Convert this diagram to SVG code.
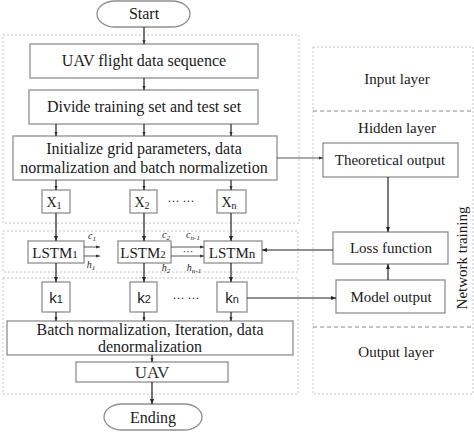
<svg xmlns="http://www.w3.org/2000/svg" width="474" height="432" viewBox="0 0 474 432">
<defs>
<marker id="ah" viewBox="0 0 10 10" refX="10" refY="5" markerWidth="5" markerHeight="5" orient="auto" markerUnits="userSpaceOnUse">
<path d="M0,1 L10,5 L0,9 z" fill="#222"/>
</marker>
<marker id="ahs" viewBox="0 0 10 10" refX="10" refY="5" markerWidth="4" markerHeight="4" orient="auto" markerUnits="userSpaceOnUse">
<path d="M0,1 L10,5 L0,9 z" fill="#333"/>
</marker>
</defs>
<style>
.box{fill:#fff;stroke:#8f8f8f;stroke-width:1.3}
.dot{fill:none;stroke:#c4c4c4;stroke-width:1;stroke-dasharray:2,2}
.dash{fill:none;stroke:#888;stroke-width:1;stroke-dasharray:4,3}
.t{font-family:"Liberation Serif","Times New Roman",serif;font-size:16px;fill:#1a1a1a;text-anchor:middle}
.s{font-family:"Liberation Sans",Arial,sans-serif;font-size:15px;fill:#1a1a1a;text-anchor:middle}
.sm{font-family:"Liberation Serif","Times New Roman",serif;font-size:10px;font-style:italic;fill:#222;text-anchor:middle}
.ln{stroke:#222;stroke-width:1.2;fill:none}
.thin{stroke:#444;stroke-width:0.9;fill:none}
</style>

<g id="frames">
<rect class="dot" x="3" y="35" width="296" height="188"/>
<rect class="dot" x="3" y="231" width="295" height="41"/>
<rect class="dot" x="3" y="278" width="295" height="116"/>
<rect class="dot" x="313" y="47" width="160" height="347"/>
<line class="dash" x1="313" y1="111" x2="474" y2="111"/>
<line class="dash" x1="313" y1="327" x2="474" y2="327"/>
</g>

<g id="labels">
<text class="t" x="397" y="84" style="font-size:15px">Input layer</text>
<text class="t" x="397" y="133" style="font-size:15px">Hidden layer</text>
<text class="t" x="396" y="357" style="font-size:15px">Output layer</text>
<text class="t" transform="translate(467,258) rotate(-90)" style="font-size:15px">Network training</text>
</g>

<g id="start">
<rect class="box" x="97" y="1" width="93" height="26" rx="18" ry="13"/>
<text class="t" x="144" y="19">Start</text>
</g>

<g id="uav-seq">
<rect class="box" x="30" y="44" width="228" height="34"/>
<text class="t" x="144" y="66">UAV flight data sequence</text>
</g>

<g id="divide">
<rect class="box" x="29" y="90" width="229" height="34"/>
<text class="t" x="144" y="112">Divide training set and test set</text>
</g>

<g id="init">
<rect class="box" x="13" y="136" width="264" height="44"/>
<text class="t" x="144" y="154">Initialize grid parameters, data</text>
<text class="t" x="144" y="173">normalization and batch normalizetion</text>
</g>

<g id="x1">
<rect class="box" x="42" y="190" width="28" height="23"/>
<text class="t" x="54" y="207" style="font-size:14px">X<tspan font-size="10" dy="2">1</tspan></text>
</g>
<g id="x2">
<rect class="box" x="130" y="190" width="27" height="23"/>
<text class="t" x="142" y="207" style="font-size:14px">X<tspan font-size="10" dy="2">2</tspan></text>
</g>
<g id="xn">
<rect class="box" x="217" y="190" width="29" height="23"/>
<text class="t" x="229" y="207" style="font-size:14px">X<tspan font-size="10" dy="2">n</tspan></text>
</g>
<text class="t" x="181" y="205" style="font-size:12px">··· ···</text>

<g id="lstm1">
<rect class="box" x="28" y="241" width="56" height="22"/>
<text class="t" x="55" y="258" style="font-size:15px">LSTM<tspan font-size="11">1</tspan></text>
</g>
<g id="lstm2">
<rect class="box" x="118" y="241" width="53" height="22"/>
<text class="t" x="143" y="258" style="font-size:15px">LSTM<tspan font-size="11">2</tspan></text>
</g>
<g id="lstmn">
<rect class="box" x="204" y="241" width="58" height="22"/>
<text class="t" x="232" y="258" style="font-size:15px">LSTM<tspan font-size="13">n</tspan></text>
</g>

<g id="k1">
<rect class="box" x="42" y="282" width="28" height="30"/>
<text class="s" x="56" y="303">k<tspan font-size="11">1</tspan></text>
</g>
<g id="k2">
<rect class="box" x="130" y="282" width="27" height="30"/>
<text class="s" x="144" y="303">k<tspan font-size="11">2</tspan></text>
</g>
<g id="kn">
<rect class="box" x="217" y="282" width="30" height="30"/>
<text class="s" x="232" y="303">k<tspan font-size="11">n</tspan></text>
</g>
<text class="t" x="186" y="302" style="font-size:12px">··· ···</text>

<g id="batch">
<rect class="box" x="7" y="321" width="286" height="34"/>
<text class="t" x="150" y="335">Batch normalization, Iteration, data</text>
<text class="t" x="150" y="352">denormalization</text>
</g>

<g id="uav">
<rect class="box" x="76" y="362" width="152" height="20"/>
<text class="t" x="152" y="378" style="font-size:17px;fill:#333">UAV</text>
</g>

<g id="ending">
<rect class="box" x="104" y="404" width="98" height="26" rx="18" ry="13"/>
<text class="t" x="153" y="423">Ending</text>
</g>

<g id="theo">
<rect class="box" x="323" y="143" width="135" height="34"/>
<text class="t" x="390" y="165" style="font-size:15px">Theoretical output</text>
</g>
<g id="loss">
<rect class="box" x="333" y="232" width="115" height="32"/>
<text class="t" x="391" y="253" style="font-size:15px">Loss function</text>
</g>
<g id="model">
<rect class="box" x="336" y="280" width="109" height="33"/>
<text class="t" x="391" y="302" style="font-size:15px">Model output</text>
</g>

<g id="connectors">
<line class="ln" x1="144" y1="27" x2="144" y2="44" marker-end="url(#ahs)"/>
<line class="ln" x1="144" y1="78" x2="144" y2="90" marker-end="url(#ahs)"/>
<line class="ln" x1="56" y1="124" x2="56" y2="136" marker-end="url(#ahs)"/>
<line class="ln" x1="144" y1="124" x2="144" y2="136" marker-end="url(#ahs)"/>
<line class="ln" x1="231" y1="124" x2="231" y2="136" marker-end="url(#ahs)"/>
<line class="ln" x1="56" y1="180" x2="56" y2="190" marker-end="url(#ahs)"/>
<line class="ln" x1="144" y1="180" x2="144" y2="190" marker-end="url(#ahs)"/>
<line class="ln" x1="231" y1="180" x2="231" y2="190" marker-end="url(#ahs)"/>
<line class="ln" x1="56" y1="213" x2="56" y2="241" marker-end="url(#ah)"/>
<line class="ln" x1="144" y1="213" x2="144" y2="241" marker-end="url(#ah)"/>
<line class="ln" x1="231" y1="213" x2="231" y2="241" marker-end="url(#ah)"/>
<line class="ln" x1="56" y1="263" x2="56" y2="282" marker-end="url(#ah)"/>
<line class="ln" x1="144" y1="263" x2="144" y2="282" marker-end="url(#ah)"/>
<line class="ln" x1="231" y1="263" x2="231" y2="282" marker-end="url(#ah)"/>
<line class="ln" x1="56" y1="312" x2="56" y2="321" marker-end="url(#ahs)"/>
<line class="ln" x1="144" y1="312" x2="144" y2="321" marker-end="url(#ahs)"/>
<line class="ln" x1="231" y1="312" x2="231" y2="321" marker-end="url(#ahs)"/>
<line class="ln" x1="152" y1="355" x2="152" y2="362" marker-end="url(#ahs)"/>
<line class="ln" x1="152" y1="382" x2="152" y2="404" marker-end="url(#ah)"/>
<line class="thin" x1="277" y1="158" x2="323" y2="158" stroke="#888" marker-end="url(#ahs)"/>
<line class="ln" x1="388" y1="177" x2="388" y2="232" marker-end="url(#ah)"/>
<line class="ln" x1="388" y1="280" x2="388" y2="264" marker-end="url(#ah)"/>
<line class="ln" x1="333" y1="250" x2="262" y2="250" marker-end="url(#ah)"/>
<line class="ln" x1="247" y1="298" x2="336" y2="298" marker-end="url(#ah)"/>
<line class="thin" x1="84" y1="247" x2="100" y2="247" marker-end="url(#ahs)"/>
<line class="thin" x1="84" y1="256" x2="100" y2="256" marker-end="url(#ahs)"/>
<line class="thin" x1="171" y1="247" x2="204" y2="247" marker-end="url(#ahs)"/>
<line class="thin" x1="171" y1="256" x2="204" y2="256" marker-end="url(#ahs)"/>
</g>

<g id="state-labels">
<text class="sm" x="92" y="239">c<tspan font-size="7" dy="2">1</tspan></text>
<text class="sm" x="91" y="268">h<tspan font-size="7" dy="2">1</tspan></text>
<text class="sm" x="166" y="238">c<tspan font-size="7" dy="2">2</tspan></text>
<text class="sm" x="193" y="238">c<tspan font-size="7" dy="2">n-1</tspan></text>
<text class="sm" x="166" y="271">h<tspan font-size="7" dy="2">2</tspan></text>
<text class="sm" x="194" y="271">h<tspan font-size="7" dy="2">n-1</tspan></text>
<text class="t" x="188" y="255" style="font-size:11px">···</text>
</g>
</svg>
